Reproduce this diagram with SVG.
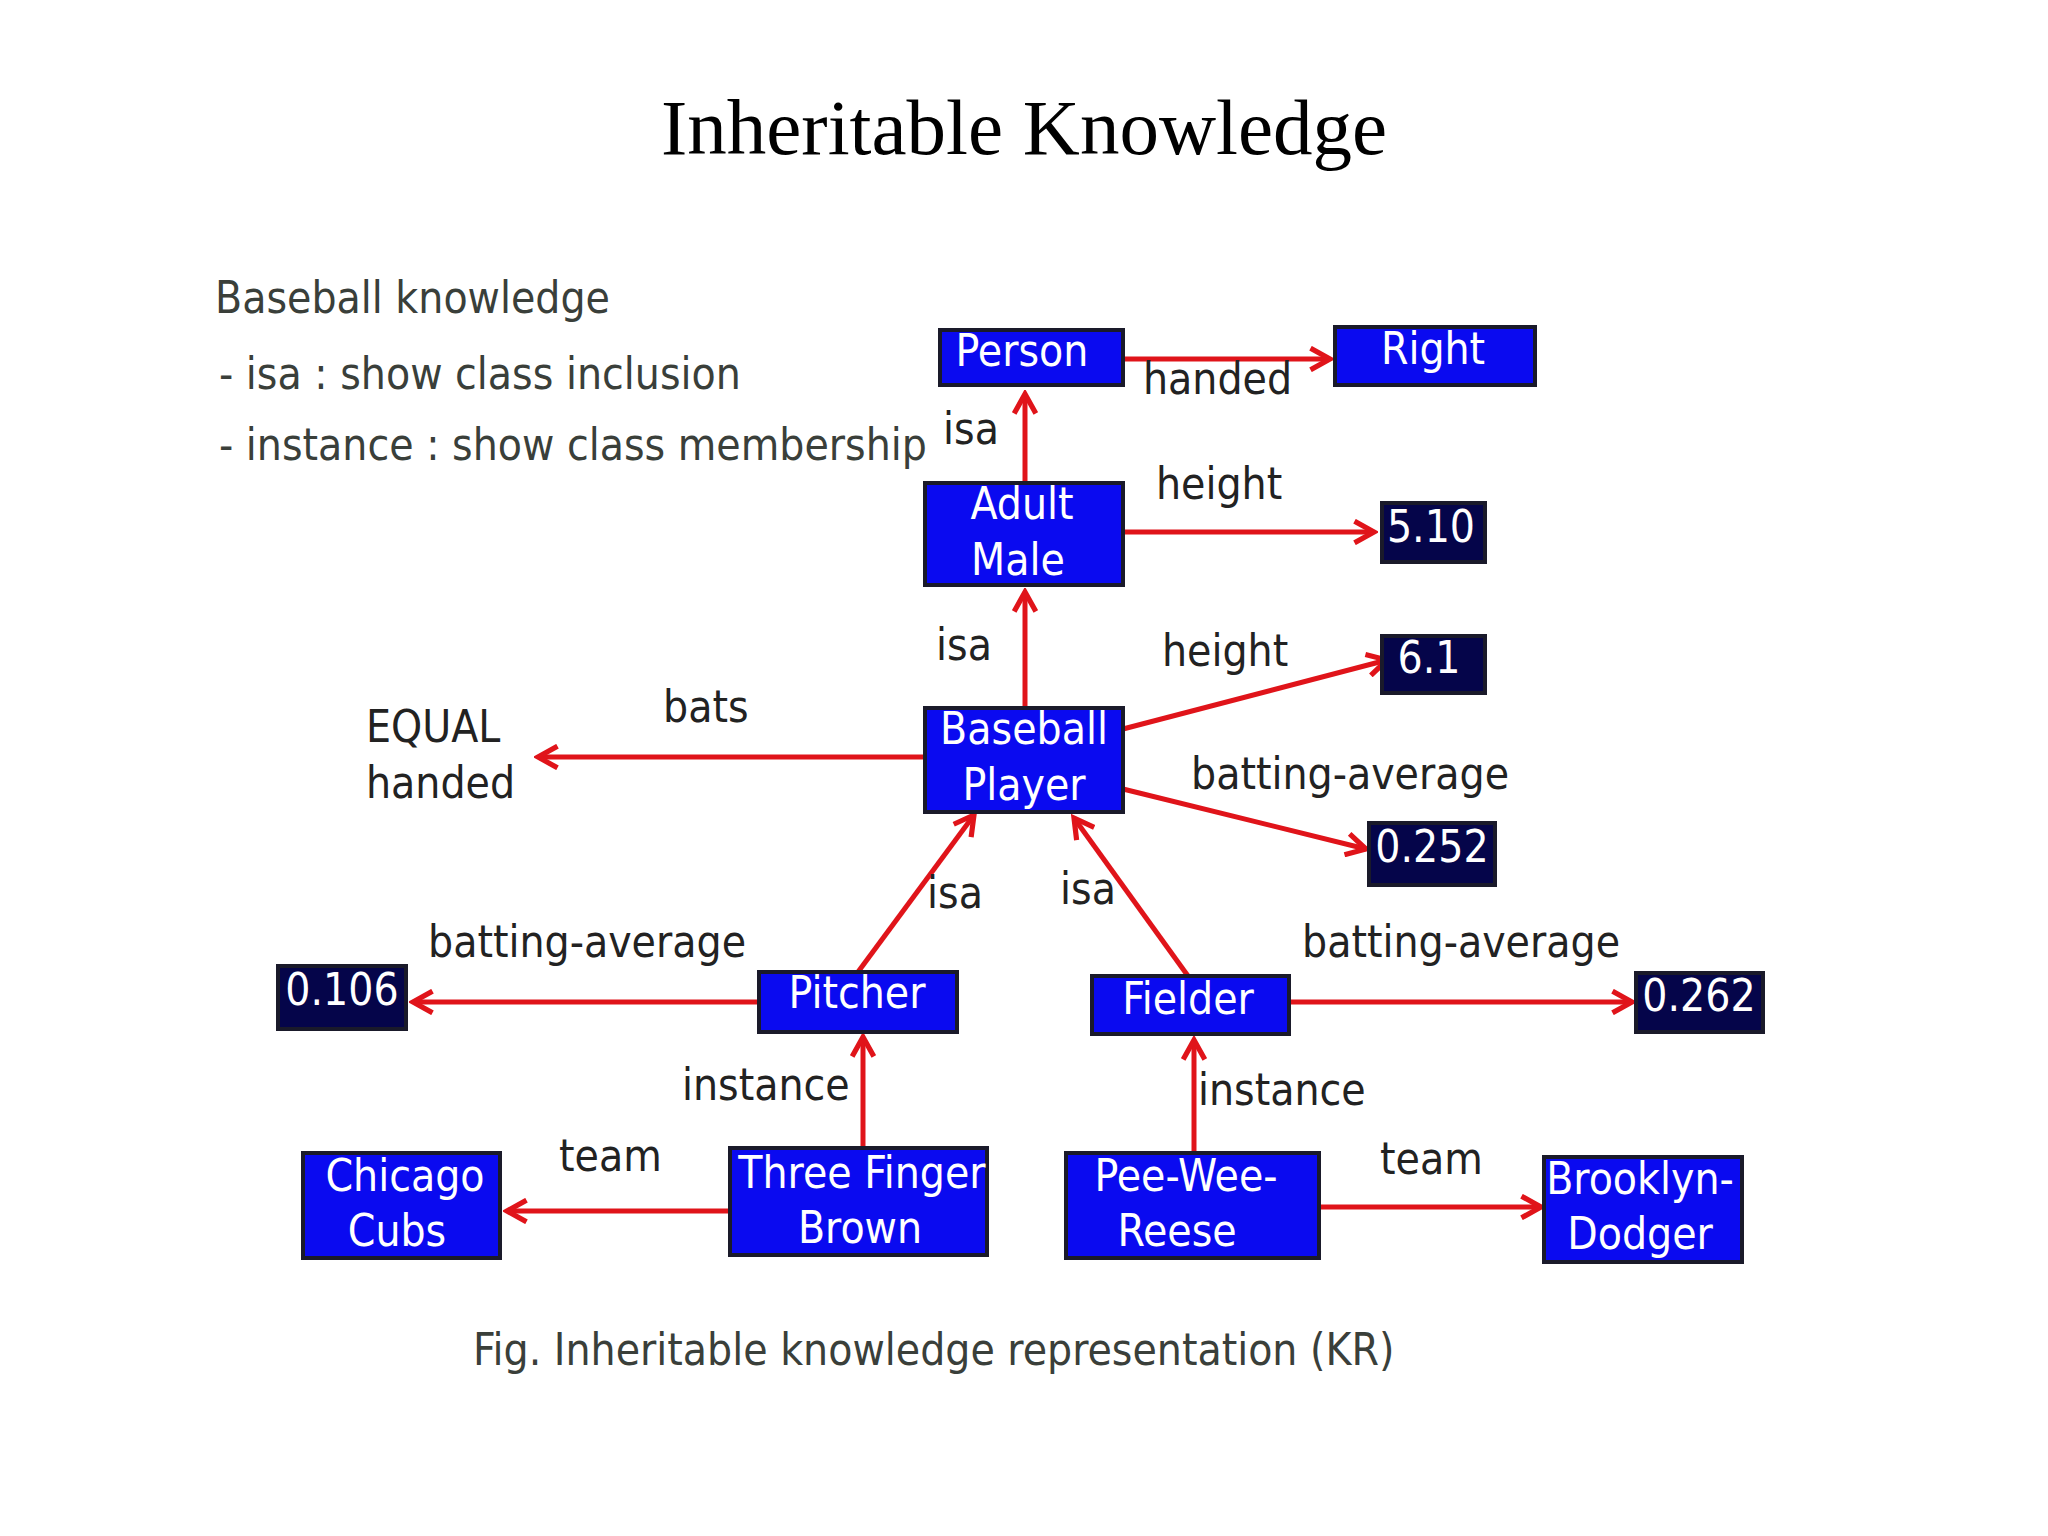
<svg xmlns="http://www.w3.org/2000/svg" width="2048" height="1536" viewBox="0 0 2048 1536">
<defs>
<marker id="ah" viewBox="0 0 12 12" refX="10" refY="6" markerWidth="26" markerHeight="26" markerUnits="userSpaceOnUse" orient="auto">
<path d="M1,1 L10,6 L1,11" fill="none" stroke="#e0141a" stroke-width="2.4"/>
</marker>
<style>
text{font-family:"DejaVu Sans Condensed","DejaVu Sans",sans-serif;font-size:44px}
.lbl{fill:#222}
.note{fill:#3a3f3a}
.nt{fill:#fff;text-anchor:middle}
.cls{fill:#0a0af0;stroke:#1a1a2a;stroke-width:4}
.val{fill:#05054a;stroke:#1a1a2a;stroke-width:4}
.e{stroke:#e0141a;stroke-width:5;fill:none;marker-end:url(#ah)}
</style>
</defs>
<rect width="2048" height="1536" fill="#fff"/>
<text x="1024" y="154" text-anchor="middle" style="font-family:'Liberation Serif',serif;font-size:79px" fill="#000">Inheritable Knowledge</text>
<text class="note" x="215" y="313">Baseball knowledge</text>
<text class="note" x="219" y="389">- isa : show class inclusion</text>
<text class="note" x="219" y="460">- instance : show class membership</text>
<g id="connectors">
<line class="e" x1="1123" y1="359" x2="1330" y2="359"/>
<line class="e" x1="1025" y1="483" x2="1025" y2="394"/>
<line class="e" x1="1123" y1="532" x2="1374" y2="532"/>
<line class="e" x1="1025" y1="708" x2="1025" y2="592"/>
<line class="e" x1="1123" y1="729" x2="1387" y2="660"/>
<line class="e" x1="1123" y1="789" x2="1366" y2="849"/>
<line class="e" x1="925" y1="757" x2="538" y2="757"/>
<line class="e" x1="858" y1="972" x2="974" y2="815"/>
<line class="e" x1="1188" y1="976" x2="1074" y2="818"/>
<line class="e" x1="759" y1="1002" x2="413" y2="1002"/>
<line class="e" x1="1289" y1="1002" x2="1632" y2="1002"/>
<line class="e" x1="863" y1="1148" x2="863" y2="1037"/>
<line class="e" x1="1194" y1="1153" x2="1194" y2="1040"/>
<line class="e" x1="730" y1="1211" x2="507" y2="1211"/>
<line class="e" x1="1319" y1="1207" x2="1541" y2="1207"/>
<text class="lbl" x="1143" y="394">handed</text>
<text class="lbl" x="943" y="444">isa</text>
<text class="lbl" x="1156" y="499">height</text>
<text class="lbl" x="936" y="660">isa</text>
<text class="lbl" x="1162" y="666">height</text>
<text class="lbl" x="1191" y="789">batting-average</text>
<text class="lbl" x="663" y="722">bats</text>
<text class="lbl" x="927" y="908">isa</text>
<text class="lbl" x="1060" y="904">isa</text>
<text class="lbl" x="428" y="957">batting-average</text>
<text class="lbl" x="1302" y="957">batting-average</text>
<text class="lbl" x="682" y="1100">instance</text>
<text class="lbl" x="1198" y="1105">instance</text>
<text class="lbl" x="559" y="1171">team</text>
<text class="lbl" x="1380" y="1174">team</text>
</g>
<g id="equal"><text class="lbl" x="366" y="742">EQUAL</text><text class="lbl" x="366" y="798">handed</text></g>
<g id="person"><rect class="cls" x="940" y="330" width="183" height="55"/><text class="nt" x="1022" y="366">Person</text></g>
<g id="right"><rect class="cls" x="1335" y="327" width="200" height="58"/><text class="nt" x="1433" y="364">Right</text></g>
<g id="adultmale"><rect class="cls" x="925" y="483" width="198" height="102"/><text class="nt" x="1022" y="519">Adult</text><text class="nt" x="1018" y="575">Male</text></g>
<g id="v510"><rect class="val" x="1382" y="503" width="103" height="59"/><text class="nt" x="1431" y="542">5.10</text></g>
<g id="v61"><rect class="val" x="1382" y="636" width="103" height="57"/><text class="nt" x="1429" y="673">6.1</text></g>
<g id="baseballplayer"><rect class="cls" x="925" y="708" width="198" height="104"/><text class="nt" x="1024" y="744">Baseball</text><text class="nt" x="1024" y="800">Player</text></g>
<g id="v0252"><rect class="val" x="1369" y="823" width="126" height="62"/><text class="nt" x="1432" y="862">0.252</text></g>
<g id="v0106"><rect class="val" x="278" y="966" width="128" height="63"/><text class="nt" x="342" y="1005">0.106</text></g>
<g id="pitcher"><rect class="cls" x="759" y="972" width="198" height="60"/><text class="nt" x="857" y="1008">Pitcher</text></g>
<g id="fielder"><rect class="cls" x="1092" y="976" width="197" height="58"/><text class="nt" x="1188" y="1014">Fielder</text></g>
<g id="v0262"><rect class="val" x="1636" y="973" width="127" height="59"/><text class="nt" x="1699" y="1011">0.262</text></g>
<g id="chicagocubs"><rect class="cls" x="303" y="1153" width="197" height="105"/><text class="nt" x="405" y="1191">Chicago</text><text class="nt" x="397" y="1246">Cubs</text></g>
<g id="threefingerbrown"><rect class="cls" x="730" y="1148" width="257" height="107"/><text class="nt" x="862" y="1188">Three Finger</text><text class="nt" x="860" y="1243">Brown</text></g>
<g id="peeweereese"><rect class="cls" x="1066" y="1153" width="253" height="105"/><text class="nt" x="1186" y="1191">Pee-Wee-</text><text class="nt" x="1177" y="1246">Reese</text></g>
<g id="brooklyndodger"><rect class="cls" x="1544" y="1157" width="198" height="105"/><text class="nt" x="1640" y="1194">Brooklyn-</text><text class="nt" x="1640" y="1249">Dodger</text></g>
<text class="note" x="473" y="1365">Fig. Inheritable knowledge representation (KR)</text>
</svg>
